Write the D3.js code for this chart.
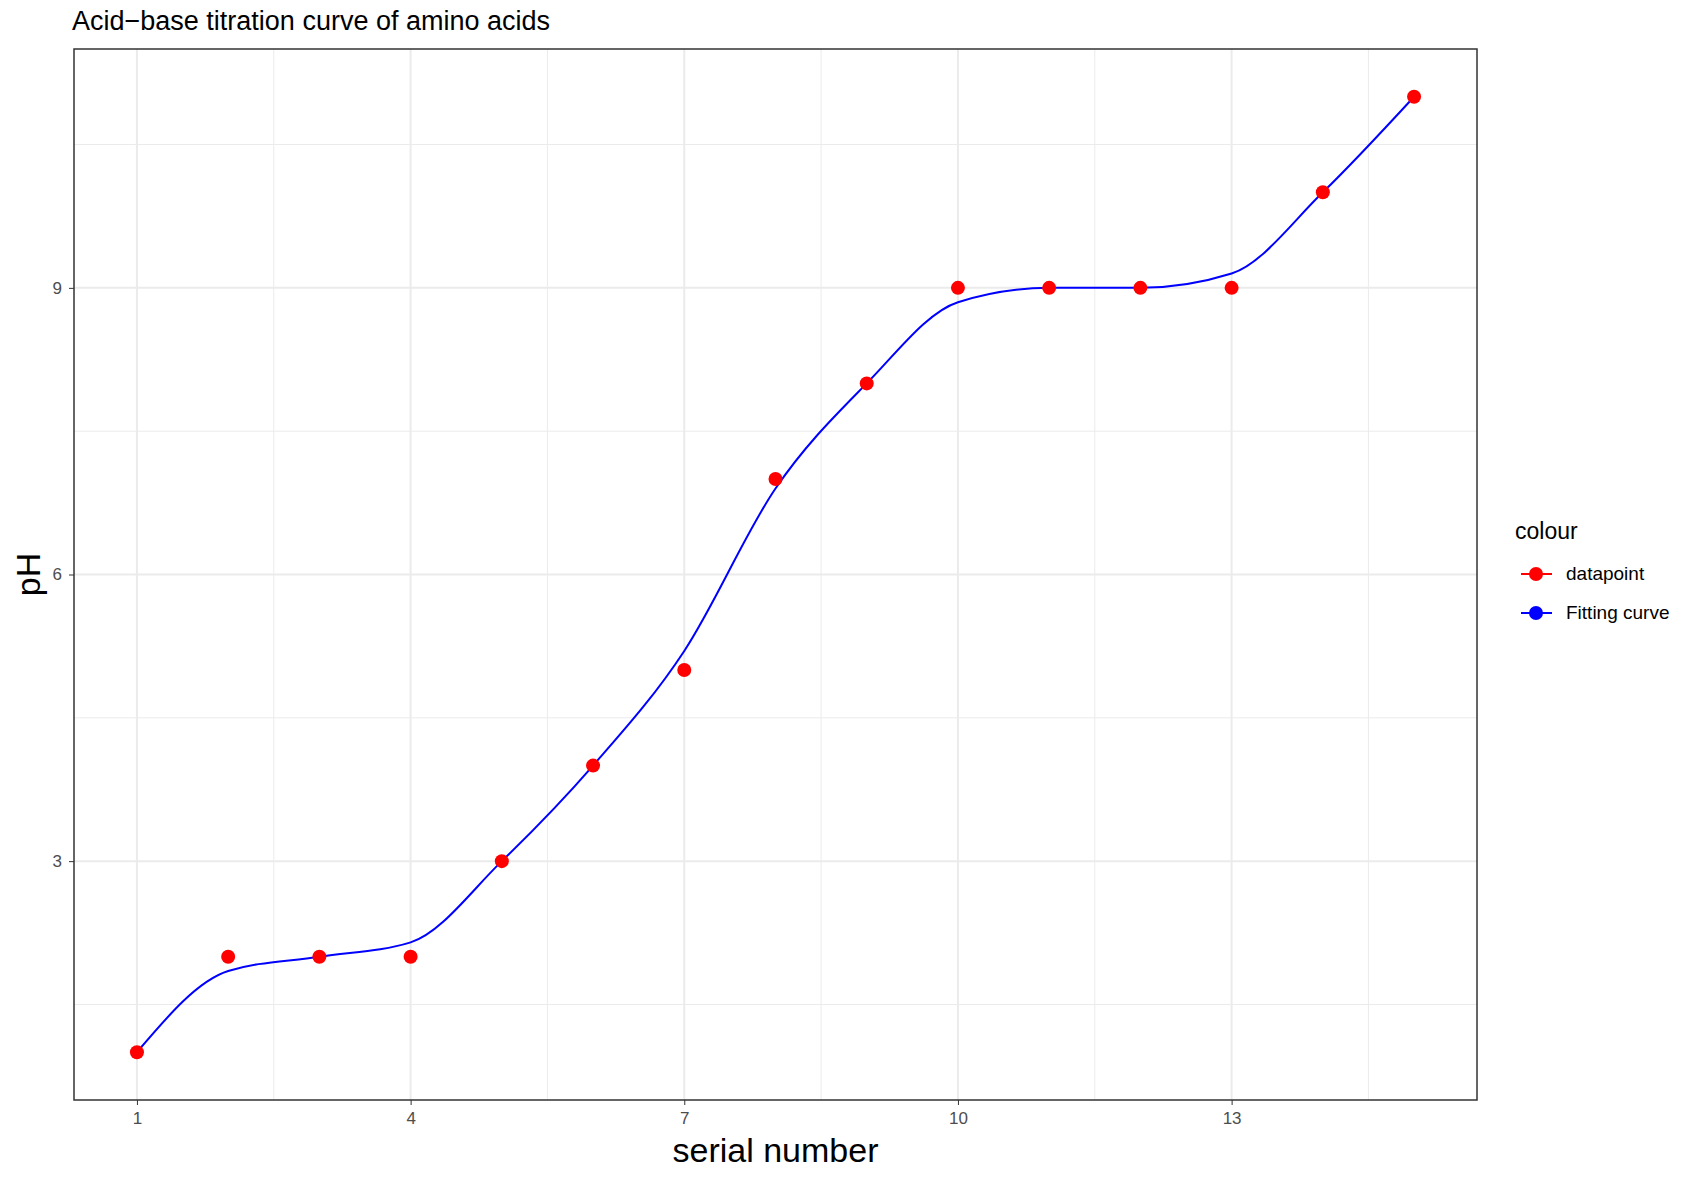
<!DOCTYPE html><html><head><meta charset="utf-8"><script src="https://cdn.jsdelivr.net/npm/d3@7"></script>
<style>body{margin:0;background:#fff}text{font-family:Arial,"Liberation Sans",sans-serif}</style></head><body><svg id="c" width="1696" height="1181"></svg>
<script>
const serial=[1,2,3,4,5,6,7,8,9,10,11,12,13,14,15];
const pH=[1,2,2,2,3,4,5,7,8,9,9,9,9,10,11];
const fitted=[1,1.85,2.0,2.15,3.0,4.0,5.2,6.9,8.0,8.85,9.0,9.0,9.15,10.0,11.0];
const xTicks=[1,4,7,10,13], xMinor=[2.5,5.5,8.5,11.5,14.5];
const yTicks=[3,6,9], yMinor=[1.5,4.5,7.5,10.5];
const L=74,R=1477,T=49,B=1100;
const svg=d3.select("#c");
const x=d3.scaleLinear().domain([0.31,15.69]).range([L,R]);
const y=d3.scaleLinear().domain([0.5,11.5]).range([B,T]);
const g=svg.append("g");
xMinor.forEach(v=>g.append("line").attr("x1",x(v)).attr("x2",x(v)).attr("y1",T).attr("y2",B).attr("stroke","#ebebeb").attr("stroke-width",1));
yMinor.forEach(v=>g.append("line").attr("y1",y(v)).attr("y2",y(v)).attr("x1",L).attr("x2",R).attr("stroke","#ebebeb").attr("stroke-width",1));
xTicks.forEach(v=>g.append("line").attr("x1",x(v)).attr("x2",x(v)).attr("y1",T).attr("y2",B).attr("stroke","#ebebeb").attr("stroke-width",2));
yTicks.forEach(v=>g.append("line").attr("y1",y(v)).attr("y2",y(v)).attr("x1",L).attr("x2",R).attr("stroke","#ebebeb").attr("stroke-width",2));
const line=d3.line().x((d,i)=>x(serial[i])).y(d=>y(d)).curve(d3.curveMonotoneX);
svg.append("path").attr("d",line(fitted)).attr("fill","none").attr("stroke","#0000ff").attr("stroke-width",2);
svg.selectAll("circle.p").data(pH).join("circle").attr("cx",(d,i)=>x(serial[i])).attr("cy",d=>y(d)).attr("r",7).attr("fill","#ff0000");
svg.append("rect").attr("x",L).attr("y",T).attr("width",R-L).attr("height",B-T).attr("fill","none").attr("stroke","#333").attr("stroke-width",1.5);
const xa=svg.append("g").attr("transform",`translate(0,${B})`).call(d3.axisBottom(x).tickValues(xTicks).tickSize(5).tickPadding(7));
const ya=svg.append("g").attr("transform",`translate(${L},0)`).call(d3.axisLeft(y).tickValues(yTicks).tickSize(5).tickPadding(7));
[xa,ya].forEach(a=>{a.select(".domain").remove();a.selectAll("line").attr("stroke","#333");a.selectAll("text").attr("fill","#4d4d4d").style("font-size","17px").style("font-family","Arial");});
svg.append("text").attr("x",72).attr("y",30).style("font-size","27px").text("Acid\u2212base titration curve of amino acids");
svg.append("text").attr("x",(L+R)/2).attr("y",1162).attr("text-anchor","middle").style("font-size","34px").text("serial number");
svg.append("text").attr("transform",`translate(40,${(T+B)/2}) rotate(-90)`).attr("text-anchor","middle").style("font-size","34px").text("pH");
svg.append("text").attr("x",1515).attr("y",539).style("font-size","23px").text("colour");
[["datapoint","#ff0000",574],["Fitting curve","#0000ff",613]].forEach(([t,c,yy])=>{
 svg.append("line").attr("x1",1521).attr("x2",1552).attr("y1",yy).attr("y2",yy).attr("stroke",c).attr("stroke-width",2);
 svg.append("circle").attr("cx",1536).attr("cy",yy).attr("r",7).attr("fill",c);
 svg.append("text").attr("x",1566).attr("y",yy+6).style("font-size","19px").text(t);
});
</script></body></html>
